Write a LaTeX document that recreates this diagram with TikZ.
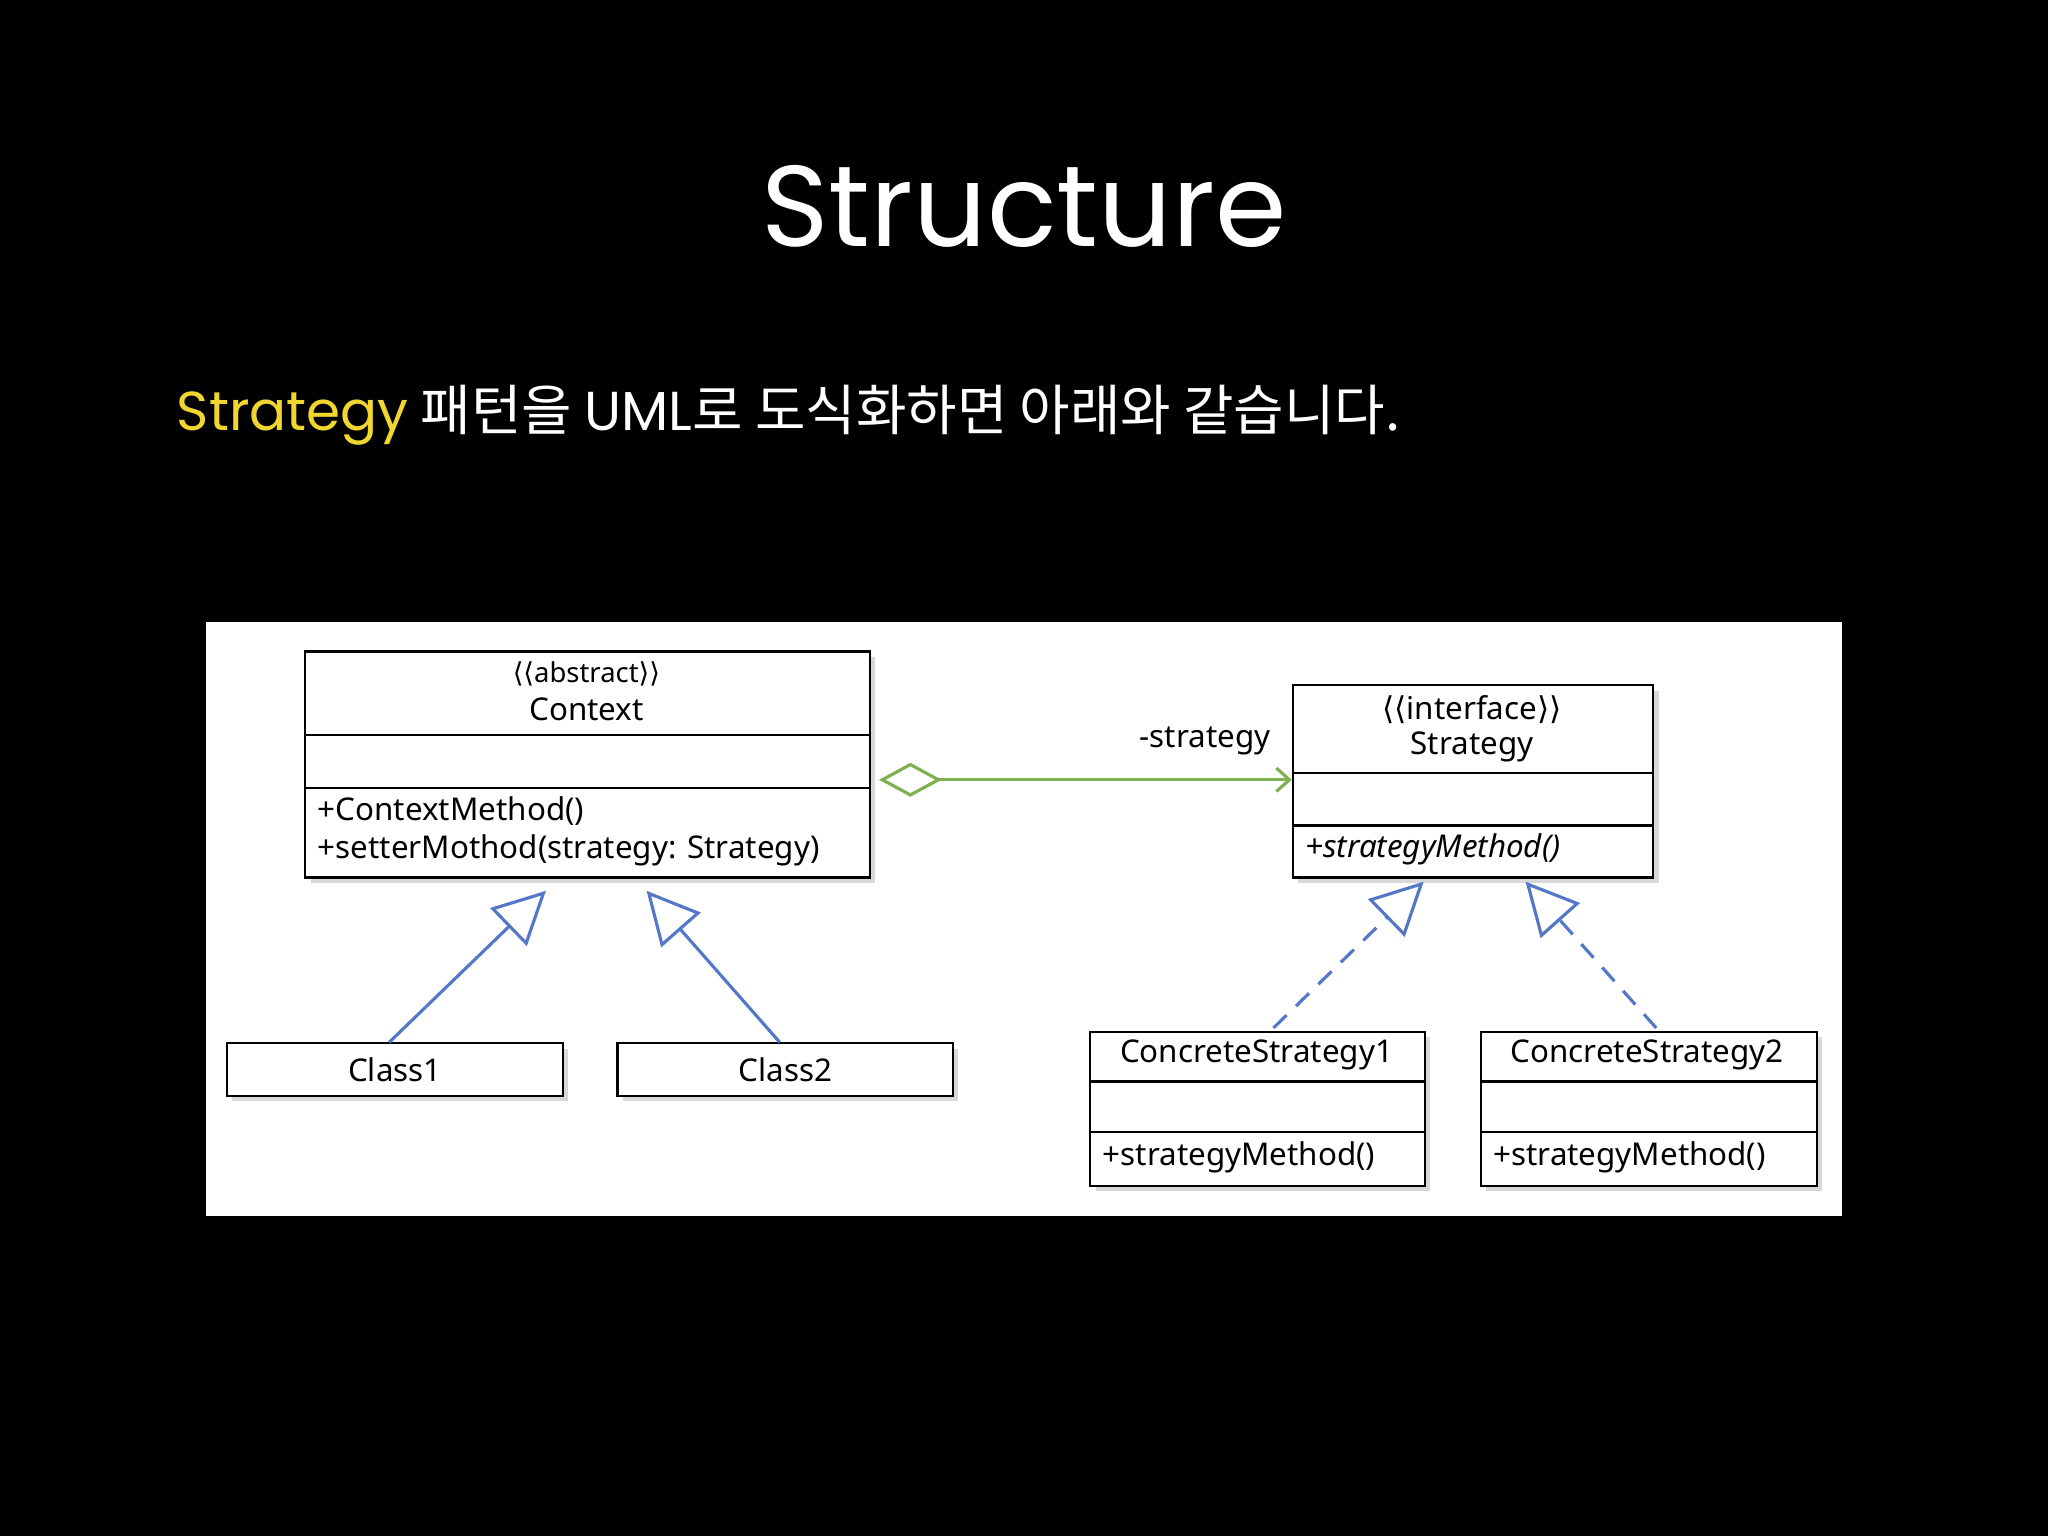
\documentclass[tikz,border=0pt]{standalone}
\usepackage{fontspec}
\setmainfont{Noto Sans}
\newfontfamily\krfont{Noto Sans CJK KR}
\newfontfamily\titlefont{Poppins}
\newfontfamily\symfont{DejaVu Sans}
\usetikzlibrary{arrows.meta}
\definecolor{ygold}{HTML}{F2D630}
\definecolor{agreen}{HTML}{7FB050}
\definecolor{iblue}{HTML}{5577C8}
\tikzset{
 box/.style={draw=black, line width=0.8pt, fill=white, anchor=north west, inner sep=0pt,
   drop shadow={shadow xshift=2pt, shadow yshift=-2pt, fill=gray!60}},
 lbl/.style={inner sep=0pt, font=\fontsize{12}{14}\selectfont},
 gen/.style={draw=iblue, line width=1.2pt, -{Triangle[open, length=20pt, width=20pt, line width=1.2pt]}},
}
\usetikzlibrary{shadows}
\begin{document}
\begin{tikzpicture}[x=0.5pt,y=-0.5pt]
\fill[black] (0,0) rectangle (1568,1176);
\useasboundingbox (0,0) rectangle (1568,1176);
\node[text=white, font=\titlefont\fontsize{44}{50}\selectfont] (title) at (784,158) {Structure};
\node[anchor=west, inner sep=0pt, font=\krfont\fontsize{21}{26}\selectfont] (sub) at (135,318)
 {\textcolor{ygold}{\titlefont Strategy} \textcolor{white}{패턴을 {\titlefont UML}로 도식화하면 아래와 같습니다.}};
\fill[white] (158,476) rectangle (1410,931);
% Context
\node[box, minimum width=216pt, minimum height=86.5pt] (ctx) at (233,498) {};
\draw[line width=0.8pt] (233,563) -- (665,563) (233,603) -- (665,603);
\node[lbl, font=\fontsize{10.5}{12}\selectfont] (ctxs) at (449,516) {{\symfont ⟨⟨}abstract{\symfont ⟩⟩}};
\node[lbl, font=\bfseries\fontsize{12}{14}\selectfont] (ctxn) at (449,543) {Context};
\node[lbl, anchor=west] (ctxm1) at (243,621) {+ContextMethod()};
\node[lbl, anchor=west] (ctxm2) at (243,651) {+setterMothod(strategy: Strategy)};
% Strategy
\node[box, minimum width=138pt, minimum height=73.5pt] (str) at (989,524) {};
\draw[line width=0.8pt] (989,592) -- (1265,592) (989,632) -- (1265,632);
\node[lbl] (strs) at (1127,543) {{\symfont ⟨⟨}interface{\symfont ⟩⟩}};
\node[lbl, font=\bfseries\fontsize{12}{14}\selectfont] (strn) at (1127,572) {Strategy};
\node[lbl, anchor=west, font=\itshape\fontsize{12}{14}\selectfont] (strm) at (999,650) {+strategyMethod()};
\node[lbl, anchor=east] (rolel) at (973,567) {-strategy};
% Classes
\node[box, minimum width=128.5pt, minimum height=20pt] (c1) at (173,798) {};
\node[lbl, font=\bfseries\fontsize{12}{14}\selectfont] at (c1.center) {Class1};
\node[box, minimum width=128.5pt, minimum height=20pt] (c2) at (472,798) {};
\node[lbl, font=\bfseries\fontsize{12}{14}\selectfont] at (c2.center) {Class2};
\node[box, minimum width=128pt, minimum height=59pt] (cs1) at (834,789) {};
\draw[line width=0.8pt] (834,828) -- (1090,828) (834,867) -- (1090,867);
\node[lbl, font=\bfseries\fontsize{12}{14}\selectfont] at (962,808) {ConcreteStrategy1};
\node[lbl, anchor=west] at (844,886) {+strategyMethod()};
\node[box, minimum width=128.5pt, minimum height=59pt] (cs2) at (1133,789) {};
\draw[line width=0.8pt] (1133,828) -- (1390,828) (1133,867) -- (1390,867);
\node[lbl, font=\bfseries\fontsize{12}{14}\selectfont] at (1261,808) {ConcreteStrategy2};
\node[lbl, anchor=west] at (1143,886) {+strategyMethod()};
% connectors
\coordinate (ag) at (673,597);
\coordinate (sa) at (989,597);
\draw[draw=agreen, line width=1.2pt, {Diamond[open, length=24pt, width=13pt, line width=1.2pt]}-{Straight Barb[length=5pt, width=9pt]}] (ag) -- (sa);
\coordinate (t1) at (418,682);
\coordinate (t2) at (495,682);
\coordinate (t3) at (1090,675);
\coordinate (t4) at (1168,675);
\draw[gen] (298,798) -- (t1);
\draw[gen] (597,798) -- (t2);
\draw[gen, dash pattern=on 7pt off 5pt] (975,787) -- (t3);
\draw[gen, dash pattern=on 7pt off 5pt] (1268,787) -- (t4);
\end{tikzpicture}
\end{document}
